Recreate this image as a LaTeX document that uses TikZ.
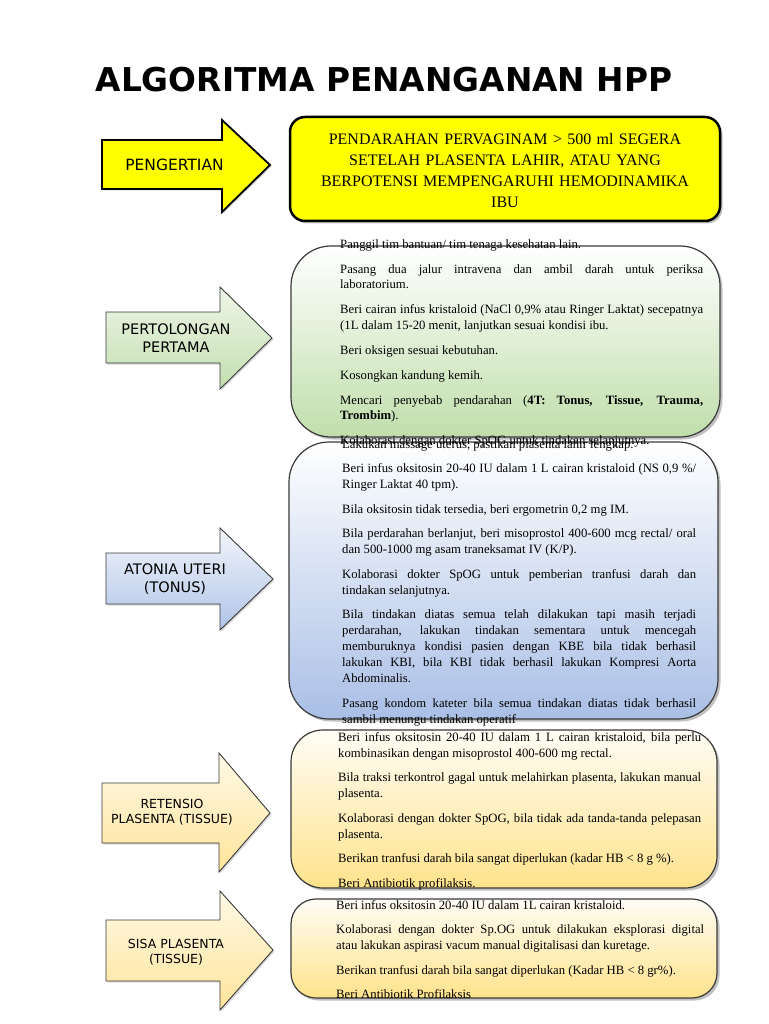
\documentclass[tikz,border=0pt]{standalone}
\usepackage{fontspec}
\setmainfont{Liberation Serif}
\newfontfamily\lblfont{DejaVu Sans}
\usetikzlibrary{shadows}
\definecolor{ylw}{HTML}{FFFF00}
\definecolor{edge}{HTML}{3A3A3A}
\definecolor{grnTop}{HTML}{FFFFFF}
\definecolor{grnBot}{HTML}{C0DEAB}
\definecolor{bluTop}{HTML}{FFFFFF}
\definecolor{bluBot}{HTML}{AABFE6}
\definecolor{crmTop}{HTML}{FFFDF6}
\definecolor{crmBot}{HTML}{FFE38C}
\definecolor{agrnTop}{HTML}{EEF5E8}
\definecolor{agrnBot}{HTML}{C3DFB0}
\definecolor{abluTop}{HTML}{F2F5FB}
\definecolor{abluBot}{HTML}{B0C4E8}
\definecolor{acrmTop}{HTML}{FFF9E6}
\definecolor{acrmBot}{HTML}{FFE49A}
\hbadness=10000
\tikzset{
  softshadow/.style={drop shadow={shadow xshift=2.5pt,shadow yshift=-2.5pt,opacity=0.35,fill=black!70}},
  infobox/.style={draw=edge,line width=1.2pt,softshadow,inner sep=0pt},
  arrowshape/.style={draw=edge,line width=0.9pt,line join=miter,drop shadow={shadow xshift=1.5pt,shadow yshift=-1.5pt,opacity=0.3}},
  lbl/.style={font=\lblfont\fontsize{14.5}{18}\selectfont,align=center,inner sep=0pt},
  smalllbl/.style={font=\lblfont\fontsize{12.5}{14.5}\selectfont,align=center,inner sep=0pt},
  bodytext/.style={anchor=north west,inner sep=0pt,align=justify,
    font=\fontsize{12.7}{16}\selectfont},
}
\newcommand{\bodysetup}[1]{\setlength{\parskip}{#1}\parindent=0pt\hyphenpenalty=10000\exhyphenpenalty=10000\hbadness=10000}
\begin{document}
\begin{tikzpicture}[x=1pt,y=-1pt]
\useasboundingbox[fill=white] (0,0) rectangle (768,1024);

% title
\node[anchor=base,inner sep=0pt,font=\lblfont\bfseries\fontsize{32.8}{36}\selectfont] (title) at (384,92) {ALGORITMA PENANGANAN HPP};

% ---------- arrows ----------
\draw[arrowshape,draw=black,line width=1.8pt,fill=ylw] (102,140) -- (222,140) -- (222,120) -- (270,165) -- (222,212) -- (222,189) -- (102,189) -- cycle;
\node[lbl,font=\lblfont\fontsize{15.5}{18}\selectfont] (l1) at (174.5,165) {PENGERTIAN};

\draw[arrowshape,top color=agrnTop,bottom color=agrnBot] (106,312) -- (220,312) -- (220,287) -- (272,338) -- (220,389) -- (220,363) -- (106,363) -- cycle;
\node[lbl] (l2) at (176,338) {PERTOLONGAN\\PERTAMA};

\draw[arrowshape,top color=abluTop,bottom color=abluBot] (106,553) -- (220,553) -- (220,528) -- (273,579) -- (220,630) -- (220,604) -- (106,604) -- cycle;
\node[lbl] (l3) at (175,579) {ATONIA UTERI\\(TONUS)};

\draw[arrowshape,top color=acrmTop,bottom color=acrmBot] (102,783) -- (219,783) -- (219,753) -- (270,813) -- (219,872) -- (219,843) -- (102,843) -- cycle;
\node[smalllbl] (l4) at (172,812) {RETENSIO\\PLASENTA (TISSUE)};

\draw[arrowshape,top color=acrmTop,bottom color=acrmBot] (106,920) -- (220,920) -- (220,891) -- (273,950) -- (220,1010) -- (220,981) -- (106,981) -- cycle;
\node[smalllbl] (l5) at (176,952) {SISA PLASENTA\\(TISSUE)};

% ---------- boxes ----------
\node[draw=black,line width=2.5pt,fill=ylw,rounded corners=15pt,minimum width=430pt,minimum height=104pt,inner sep=0pt,softshadow] (b1) at (505,169) {};
\node[infobox,rounded corners=40pt,top color=grnTop,bottom color=grnBot,minimum width=429pt,minimum height=191pt] (b2) at (505.5,341.5) {};
\node[infobox,rounded corners=40pt,top color=bluTop,bottom color=bluBot,minimum width=429pt,minimum height=277pt] (b3) at (503.5,580.5) {};
\node[infobox,rounded corners=32pt,top color=crmTop,bottom color=crmBot,minimum width=426pt,minimum height=158pt] (b4) at (504,809) {};
\node[infobox,rounded corners=25pt,top color=crmTop,bottom color=crmBot,minimum width=426pt,minimum height=99pt] (b5) at (504,948.5) {};

% ---------- texts ----------
\node[align=center,text width=420pt,inner sep=0pt,font=\fontsize{16}{21.3}\selectfont] (t1) at (505,170.5) {PENDARAHAN PERVAGINAM > 500 ml SEGERA\\SETELAH PLASENTA LAHIR, ATAU YANG\\BERPOTENSI MEMPENGARUHI HEMODINAMIKA\\IBU};

\node[bodytext,text width=363pt,font=\fontsize{12.7}{15.5}\selectfont] (t2) at (340,239) {\bodysetup{9.5pt}
Panggil tim bantuan/ tim tenaga kesehatan lain.\par
Pasang dua jalur intravena dan ambil darah untuk periksa\linebreak laboratorium.\par
Beri cairan infus kristaloid (NaCl 0,9\% atau Ringer Laktat) secepatnya\linebreak (1L dalam 15-20 menit, lanjutkan sesuai kondisi ibu.\par
Beri oksigen sesuai kebutuhan.\par
Kosongkan kandung kemih.\par
Mencari penyebab pendarahan (\textbf{4T: Tonus, Tissue, Trauma,\linebreak Trombim}).\par
Kolaborasi dengan dokter SpOG untuk tindakan selanjutnya.};

\node[bodytext,text width=354pt] (t3) at (342,439) {\bodysetup{8.5pt}
Lakukan massage uterus, pastikan plasenta lahir lengkap.\par
Beri infus oksitosin 20-40 IU dalam 1 L cairan kristaloid (NS 0,9 \%/\linebreak Ringer Laktat 40 tpm).\par
Bila oksitosin tidak tersedia, beri ergometrin 0,2 mg IM.\par
Bila perdarahan berlanjut, beri misoprostol 400-600 mcg rectal/ oral\linebreak dan 500-1000 mg asam traneksamat IV (K/P).\par
Kolaborasi dokter SpOG untuk pemberian tranfusi darah dan\linebreak tindakan selanjutnya.\par
Bila tindakan diatas semua telah dilakukan tapi masih terjadi\linebreak perdarahan, lakukan tindakan sementara untuk mencegah\linebreak memburuknya kondisi pasien dengan KBE bila tidak berhasil\linebreak lakukan KBI, bila KBI tidak berhasil lakukan Kompresi Aorta\linebreak Abdominalis.\par
Pasang kondom kateter bila semua tindakan diatas tidak berhasil\linebreak sambil menungu tindakan operatif};

\node[bodytext,text width=363pt] (t4) at (338,732) {\bodysetup{8.5pt}
Beri infus oksitosin 20-40 IU dalam 1 L cairan kristaloid, bila perlu\linebreak kombinasikan dengan misoprostol 400-600 mg rectal.\par
Bila traksi terkontrol gagal untuk melahirkan plasenta, lakukan manual\linebreak plasenta.\par
Kolaborasi dengan dokter SpOG, bila tidak ada tanda-tanda pelepasan\linebreak plasenta.\par
Berikan tranfusi darah bila sangat diperlukan (kadar HB < 8 g \%).\par
Beri Antibiotik profilaksis.};

\node[bodytext,text width=368pt] (t5) at (336,900) {\bodysetup{8.5pt}
Beri infus oksitosin 20-40 IU dalam 1L cairan kristaloid.\par
Kolaborasi dengan dokter Sp.OG untuk dilakukan eksplorasi digital\linebreak atau lakukan aspirasi vacum manual digitalisasi dan kuretage.\par
Berikan tranfusi darah bila sangat diperlukan (Kadar HB < 8 gr\%).\par
Beri Antibiotik Profilaksis};
\end{tikzpicture}
\end{document}
